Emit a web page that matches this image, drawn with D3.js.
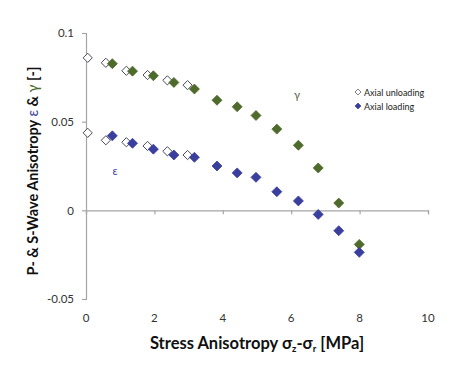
<!DOCTYPE html>
<html><head><meta charset="utf-8">
<script src="https://cdn.jsdelivr.net/npm/d3@7"></script>
<style>body{margin:0;background:#fff}svg{display:block}</style>
</head><body>
<svg id="c" width="474" height="390"></svg>
<script>
const xUnload = [0.05, 0.58, 1.18, 1.80, 2.38, 2.97];
const gammaUnload = [0.086, 0.0832, 0.0787, 0.0763, 0.0733, 0.0706];
const epsUnload = [0.0437, 0.0395, 0.0384, 0.0363, 0.0333, 0.0312];
const xLoad = [0.77, 1.36, 1.97, 2.57, 3.17, 3.83, 4.42, 4.97, 5.58, 6.21, 6.79, 7.39, 7.99];
const gammaLoad = [0.0827, 0.0785, 0.0759, 0.0721, 0.0684, 0.0621, 0.0584, 0.0535, 0.0458, 0.0367, 0.0239, 0.0041, -0.0192];
const epsLoad = [0.0420, 0.0378, 0.0345, 0.0312, 0.0299, 0.0250, 0.0211, 0.0186, 0.0105, 0.0053, -0.0023, -0.0115, -0.0237];
const xTicks = [0, 2, 4, 6, 8, 10];
const yTicks = [-0.05, 0, 0.05, 0.1];
const legendLabels = ["Axial unloading", "Axial loading"];

const svg = d3.select("#c");
const x = d3.scaleLinear().domain([0, 10]).range([86, 428]);
const y = d3.scaleLinear().domain([-0.05, 0.1]).range([299, 33]);
const axisCol = "#a6a6a6";
const green = "#4f6b2c", blue = "#3a3f9e";
const font = "Lato, 'Open Sans', sans-serif";

const ya = svg.append("g").attr("transform", `translate(${x(0)},0)`)
  .call(d3.axisLeft(y).tickValues(yTicks).tickSize(4).tickPadding(8)
    .tickFormat(d => d === 0 ? "0" : String(d)));
const xa = svg.append("g").attr("transform", `translate(0,${y(0)})`)
  .call(d3.axisBottom(x).tickValues(xTicks).tickSize(4).tickFormat(""));
[ya, xa].forEach(g => {
  g.select(".domain").attr("stroke", axisCol).attr("stroke-width", 1.2);
  g.selectAll(".tick line").attr("stroke", axisCol).attr("stroke-width", 1.2);
});
ya.selectAll(".tick text").attr("font-family", font).attr("font-size", 11.5).attr("fill", "#333");
svg.append("g").selectAll("text").data(xTicks).join("text")
  .attr("x", d => x(d)).attr("y", 322).attr("text-anchor", "middle")
  .attr("font-family", font).attr("font-size", 11.5).attr("fill", "#333")
  .text(d => d);

function diamondPath(r) { return `M0,${-r}L${r},0L0,${r}L${-r},0Z`; }
function pts(xs, ys, filled, col) {
  svg.append("g").selectAll("path").data(xs.map((v, i) => [v, ys[i]])).join("path")
    .attr("d", diamondPath(filled ? 5 : 4.6))
    .attr("transform", d => `translate(${x(d[0])},${y(d[1])})`)
    .attr("fill", filled ? col : "#fff")
    .attr("stroke", filled ? col : "#4a4a5a")
    .attr("stroke-width", filled ? 0.8 : 1);
}
pts(xUnload, gammaUnload, false);
pts(xUnload, epsUnload, false);
pts(xLoad, gammaLoad, true, green);
pts(xLoad, epsLoad, true, blue);

svg.append("text").attr("x", 297).attr("y", 99).attr("text-anchor", "middle")
  .attr("font-family", font).attr("font-size", 11).attr("fill", "#5a5f4a").text("γ");
svg.append("text").attr("x", 115).attr("y", 175).attr("text-anchor", "middle")
  .attr("font-family", font).attr("font-size", 11).attr("fill", "#3a3f9e").text("ε");

const lg = svg.append("g");
legendLabels.forEach((t, i) => {
  const ly = 92 + i * 14;
  lg.append("path").attr("d", diamondPath(3))
    .attr("transform", `translate(358,${ly})`)
    .attr("fill", i === 0 ? "#fff" : blue).attr("stroke", i === 0 ? "#4a4a5a" : blue).attr("stroke-width", 0.7);
  lg.append("text").attr("x", 364).attr("y", ly + 3.5)
    .attr("font-family", font).attr("font-size", 9).attr("fill", "#222").text(t);
});

const xt = svg.append("text").attr("x", 257).attr("y", 349).attr("text-anchor", "middle")
  .attr("font-family", font).attr("font-weight", "bold").attr("font-size", 16.5).attr("fill", "#111");
xt.append("tspan").text("Stress Anisotropy σ");
xt.append("tspan").attr("font-size", 9.5).attr("dy", 3).text("z");
xt.append("tspan").attr("dy", -3).text("-σ");
xt.append("tspan").attr("font-size", 9.5).attr("dy", 3).text("r");
xt.append("tspan").attr("dy", -3).text(" [MPa]");

const yt = svg.append("text").attr("transform", "translate(38,171) rotate(-90)")
  .attr("text-anchor", "middle").attr("font-family", font).attr("font-weight", "bold")
  .attr("font-size", 14.5).attr("fill", "#111");
yt.append("tspan").text("P- & S-Wave Anisotropy ");
yt.append("tspan").attr("fill", blue).attr("font-weight", "normal").text("ε");
yt.append("tspan").text(" & ");
yt.append("tspan").attr("fill", green).attr("font-weight", "normal").text("γ");
yt.append("tspan").text(" [-]");
</script>
</body></html>
